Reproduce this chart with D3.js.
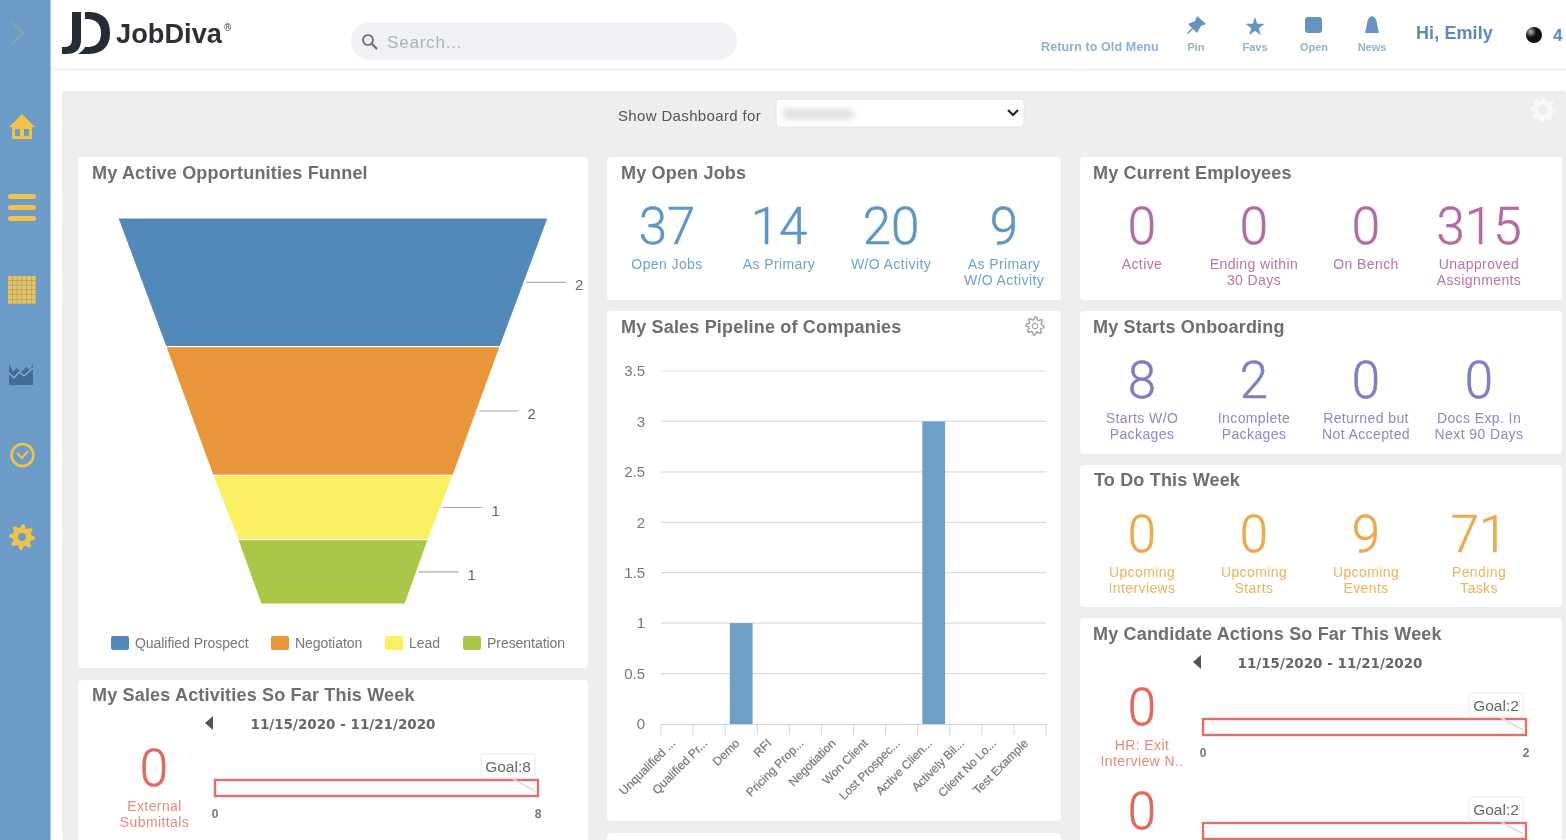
<!DOCTYPE html>
<html><head><meta charset="utf-8">
<script src="https://cdn.jsdelivr.net/npm/d3@7"></script>
<style>
html,body{margin:0;padding:0;background:#fff;overflow:hidden}
svg{display:block;filter:blur(0.5px)}
text{font-family:"Liberation Sans",Arial,sans-serif}
.title{font-size:18px;font-weight:700;fill:#6e6e6e;letter-spacing:0.18px}
.num{font-family:Roboto,sans-serif;font-weight:300;font-size:51px;text-anchor:middle;stroke-width:0.5px}
.lab{font-size:14px;text-anchor:middle;letter-spacing:0.4px}
.axis text{font-size:15px;fill:#777}
.date{font-family:"DejaVu Sans",sans-serif;font-size:13.5px;font-weight:700;fill:#666}
</style></head><body><svg id="c" width="1566" height="840"></svg>
<script>
// ---- data ----
const funnelCategories = ["Qualified Prospect","Negotiaton","Lead","Presentation"];
const funnelValues = [2,2,1,1];
const funnelColors = ["#5389b9","#e9953a","#fbf062","#aac748"];
const pipelineCategories = ["Unqualified ...","Qualified Pr...","Demo","RFI","Pricing Prop...","Negotiation","Won Client","Lost Prospec...","Active Clien...","Actively Bil...","Client No Lo...","Test Example"];
const pipelineValues = [0,0,1,0,0,0,0,0,3,0,0,0];
const pipelineTicks = [0,0.5,1,1.5,2,2.5,3,3.5];
const openJobsValues = ["37","14","20","9"];
const openJobsLabels = [["Open Jobs"],["As Primary"],["W/O Activity"],["As Primary","W/O Activity"]];
const employeesValues = ["0","0","0","315"];
const employeesLabels = [["Active"],["Ending within","30 Days"],["On Bench"],["Unapproved","Assignments"]];
const onboardingValues = ["8","2","0","0"];
const onboardingLabels = [["Starts W/O","Packages"],["Incomplete","Packages"],["Returned but","Not Accepted"],["Docs Exp. In","Next 90 Days"]];
const todoValues = ["0","0","9","71"];
const todoLabels = [["Upcoming","Interviews"],["Upcoming","Starts"],["Upcoming","Events"],["Pending","Tasks"]];
const dateRange = "11/15/2020 - 11/21/2020";
const salesGoal = 8, salesActual = 0;
const candidateGoals = [2,2], candidateActuals = [0,0];

const svg = d3.select("#c");
const rect=(x,y,w,h,f,r=0,p=svg)=>p.append("rect").attr("x",x).attr("y",y).attr("width",w).attr("height",h).attr("fill",f).attr("rx",r);
const text=(x,y,s,cls,attrs={})=>{const t=svg.append("text").attr("x",x).attr("y",y).text(s);if(cls)t.attr("class",cls);for(const k in attrs)t.attr(k,attrs[k]);return t;};
function gear(cx,cy,ro,ri,hole,fill,stroke){
  const n=8,pts=[];
  for(let i=0;i<n*4;i++){const r=(i%4<2)?ro:ri;const a=i/(n*4)*2*Math.PI;pts.push([cx+r*Math.cos(a),cy+r*Math.sin(a)]);}
  const g=svg.append("path").attr("d",d3.line().curve(d3.curveLinearClosed)(pts)).attr("fill",fill);
  if(stroke)g.attr("stroke",stroke).attr("stroke-width",1.3);
  return svg.append("circle").attr("cx",cx).attr("cy",cy).attr("r",hole);
}

// ---- page frame ----
rect(0,0,1566,840,"#fff");
rect(0,68,1566,3,"#f6f6f6");
rect(62,91,1504,749,"#eeeeee",3);
rect(0,0,50,840,"#6c9bc8");
rect(50,0,1,840,"#a9c6df");

// cards
[[78,157,510,511],[607,157,454,143],[1080,157,482,143],[607,311,454,510],[1080,311,482,143],[1080,465,482,142],[1080,618,482,240],[78,680,510,180],[607,833,454,30]]
 .forEach(d=>rect(d[0],d[1],d[2],d[3],"#fff",4));

// sidebar icons
const Y="#f0c14b";
svg.append("path").attr("d","M22 114 L35 127 H32 V139 H12 V127 H9 Z M15 129 V136 H20 V129 Z M24 129 V136 H29 V129 Z").attr("fill",Y).attr("fill-rule","evenodd");
[196,207,218].forEach(y=>rect(8,y-2,28,5,Y,2.5));
d3.range(6).forEach(i=>d3.range(6).forEach(j=>rect(8+i*4.7,276+j*4.7,4.2,4.2,Y)));
svg.append("path").attr("d","M9 385 V364 L13 372 L17 368 L21 373 L26 367 L30 370 L33 364 V385 Z").attr("fill","#3f6d96");
svg.append("path").attr("d","M9 373 L14 378 L19 372 L24 376 L33 368").attr("fill","none").attr("stroke","#8fb3d3").attr("stroke-width",1.2);
svg.append("circle").attr("cx",22.5).attr("cy",455).attr("r",11).attr("fill","none").attr("stroke",Y).attr("stroke-width",2.6);
svg.append("path").attr("d","M17 453 L22 458 L28 451").attr("fill","none").attr("stroke",Y).attr("stroke-width",2);
gear(22,537,13,9.5,4,Y).attr("fill","#6c9bc8");
svg.append("path").attr("d","M12 22 L23 33 L12 44").attr("fill","none").attr("stroke","#88ab9c").attr("stroke-width",1.5);

// logo
svg.append("path").attr("d","M72 12 H81 V40 Q81 54 66 54 H62 V47 H65 Q72 47 72 39 Z M85 12 H90 Q110 13 110 33 Q110 53 89 54 H78 Q84 50 85 47 H89 Q101 46 101 33 Q101 20 88 19 H85 Z").attr("fill","#262c36");
text(116,43,"JobDiva",null,{"font-size":"28px","font-weight":700,fill:"#2b2f36","textLength":106,"lengthAdjust":"spacingAndGlyphs"});
text(224,31,"®",null,{"font-size":"10px",fill:"#444"});

// search
rect(351,22,386,38,"#eff1f5",19);
svg.append("circle").attr("cx",368).attr("cy",40).attr("r",5).attr("fill","none").attr("stroke","#666").attr("stroke-width",1.7);
svg.append("path").attr("d","M372 44 L377 49").attr("stroke","#666").attr("stroke-width",1.9);
text(387,48,"Search...",null,{"font-size":"17px",fill:"#aeb2b9","font-family":"Open Sans","letter-spacing":"0.8"});

// header right
const hb="#6793c2";
text(1041,51,"Return to Old Menu",null,{"font-size":"12.5px","font-weight":700,fill:"#8fb0cd","letter-spacing":"0.1"});
[["Pin",1196],["Favs",1255],["Open",1314],["News",1372]].forEach(d=>text(d[1],51,d[0],null,{"font-size":"11px","font-weight":700,fill:"#92b3cf","text-anchor":"middle"}));
svg.append("path").attr("d","M1197 16 L1206 24 L1201 26 L1197 33 L1193 29 L1188 34 L1187 33 L1192 28 L1188 24 L1195 21 Z").attr("fill",hb);
svg.append("path").attr("d",d3.symbol().type(d3.symbolStar).size(115)()).attr("transform","translate(1255,27)").attr("fill",hb);
rect(1305,17,17,16,hb,3);
svg.append("path").attr("d","M1372 16 Q1377 18 1377 24 L1379 33 H1365 L1367 24 Q1367 18 1372 16 Z").attr("fill",hb);
text(1416,39,"Hi, Emily",null,{"font-size":"18px","font-weight":700,fill:"#5f88bb","letter-spacing":"0.1"});
const gr=svg.append("defs").append("radialGradient").attr("id","ball").attr("cx","0.3").attr("cy","0.3");
gr.append("stop").attr("offset","0").attr("stop-color","#bbb");gr.append("stop").attr("offset","0.7").attr("stop-color","#111");
svg.append("circle").attr("cx",1534).attr("cy",35).attr("r",8).attr("fill","url(#ball)");
text(1553,41,"4",null,{"font-size":"17px","font-weight":700,fill:"#5f88bb"});

// dashboard selector
text(618,121,"Show Dashboard for",null,{"font-size":"15px",fill:"#555","letter-spacing":"0.35"});
rect(776,99,248,28,"#fff",3).attr("stroke","#e2e2e2");
rect(783,109,70,10,"#dcdcdc",4).style("filter","blur(3px)");
svg.append("path").attr("d","M1008 110 L1013 115 L1018 110").attr("fill","none").attr("stroke","#222").attr("stroke-width",2.2);
gear(1543,110,13,9.5,5,"#f8f8f8").attr("fill","#eeeeee");
gear(1035,326,9,6.5,2.8,"#fff","#999").attr("fill","#fff").attr("stroke","#999");

// titles
[["My Active Opportunities Funnel",92,179],["My Open Jobs",621,179],["My Current Employees",1093,179],["My Sales Pipeline of Companies",621,333],["My Starts Onboarding",1093,333],["To Do This Week",1094,486],["My Candidate Actions So Far This Week",1093,640],["My Sales Activities So Far This Week",92,701]]
 .forEach(d=>text(d[1],d[2],d[0],"title"));

// ---- funnel ----
const cum=[0];funnelValues.forEach(v=>cum.push(cum[cum.length-1]+v));
const total=cum[cum.length-1], fCx=333;
const fy=d3.scaleLinear().domain([0,total]).range([218,604]);
const fwTop=d3.scaleLinear().domain([0,2,4,5,6]).range([215,167,120,95,72]);
const fArea=d3.line();
funnelValues.forEach((v,i)=>{
  const a=cum[i],b=cum[i+1];
  svg.append("path").attr("d",fArea([[fCx-fwTop(a),fy(a)],[fCx+fwTop(a),fy(a)],[fCx+fwTop(b),fy(b)],[fCx-fwTop(b),fy(b)]])+"Z").attr("fill",funnelColors[i]).attr("stroke","#fff").attr("stroke-width",1);
  const m=(a+b)/2,x=fCx+fwTop(m)+2,y=fy(m);
  svg.append("line").attr("x1",x).attr("x2",x+40).attr("y1",y).attr("y2",y).attr("stroke","#aaa").attr("stroke-width",1.2);
  text(x+49,y+8,v,null,{"font-size":"15px",fill:"#666"});
});
const legendX=[111,271,385,463];
funnelCategories.forEach((c,i)=>{
  rect(legendX[i],636,18,14,funnelColors[i],2);
  text(legendX[i]+24,648,c,null,{"font-size":"14px",fill:"#777","letter-spacing":"-0.05"});
});

// ---- bar chart ----
const bx=d3.scaleBand().domain(pipelineCategories).range([661,1046]).paddingInner(0.29).paddingOuter(0.145);
const by=d3.scaleLinear().domain([0,3.5]).range([724,371]);
const gy=svg.append("g").attr("class","axis").attr("transform","translate(661,0)")
  .call(d3.axisLeft(by).tickValues(pipelineTicks).tickFormat(d=>d).tickSize(0).tickPadding(16));
gy.select(".domain").remove();
gy.selectAll(".tick text").attr("dy","0.32em");
svg.selectAll("line.grid").data(pipelineTicks.slice(1)).join("line").attr("class","grid")
  .attr("x1",661).attr("x2",1046).attr("y1",d=>by(d)).attr("y2",d=>by(d)).attr("stroke","#dcdcdc").attr("stroke-width",1.2);
svg.selectAll("rect.bar").data(pipelineValues).join("rect").attr("class","bar")
  .attr("x",(d,i)=>bx(pipelineCategories[i])).attr("width",bx.bandwidth())
  .attr("y",d=>by(d)).attr("height",d=>by(0)-by(d)).attr("fill","#6e9fc6");
svg.append("line").attr("x1",661).attr("x2",1046).attr("y1",724.5).attr("y2",724.5).attr("stroke","#c9d6e2").attr("stroke-width",1.2);
d3.range(pipelineCategories.length+1).forEach(i=>{
  const x=661+i*(385/pipelineCategories.length);
  svg.append("line").attr("x1",x).attr("x2",x).attr("y1",724).attr("y2",735).attr("stroke","#c9d6e2").attr("stroke-width",1);
});
pipelineCategories.forEach(c=>{
  const x=bx(c)+bx.bandwidth()/2-4,y=741;
  svg.append("text").attr("transform",`translate(${x},${y}) rotate(-45)`).attr("text-anchor","end").attr("dy","0.35em")
    .attr("font-size","12px").attr("fill","#777").attr("stroke","#777").attr("stroke-width",0.2).text(c);
});

// ---- KPI groups ----
function kpi(cols,baseY,vals,labs,color,lColor){
  vals.forEach((v,i)=>{
    text(cols[i],baseY,v,"num",{fill:color,stroke:color});
    labs[i].forEach((l,j)=>text(cols[i],baseY+25+j*16,l,"lab",{fill:lColor||color}));
  });
}
const midCols=[667,779,891,1004], rightCols=[1142,1254,1366,1479];
kpi(midCols,244,openJobsValues,openJobsLabels,"#5f97c2","#6fa3c9");
kpi(rightCols,244,employeesValues,employeesLabels,"#b56aa2","#bb73a8");
kpi(rightCols,398,onboardingValues,onboardingLabels,"#7e7fc0","#8a8ac6");
kpi(rightCols,552,todoValues,todoLabels,"#eca94f","#efb25e");

// ---- goal bars ----
const R="#df7068";
function goalBar(x0,x1,y,goal,actual,showTicks){
  const s=d3.scaleLinear().domain([0,goal]).range([x0,x1]);
  rect(s(0),y,s(goal)-s(0),16,"#fff").attr("stroke",R).attr("stroke-width",2.4);
  rect(s(0),y,s(actual)-s(0),16,R);
  const bxL=s(goal)-57;
  rect(bxL,y-26,54,24,"#fff",1).attr("stroke","#e8e8e8");
  svg.append("path").attr("d",`M${s(goal)-25} ${y-1} L${s(goal)-3} ${y+11}`).attr("stroke","#ddd").attr("stroke-width",1.5);
  text(bxL+27,y-8,"Goal:"+goal,null,{"font-size":"15.5px",fill:"#666","text-anchor":"middle"});
  if(showTicks){
    [0,goal].forEach(v=>text(s(v),y+38,v,null,{"font-size":"12px","font-weight":700,fill:"#777","text-anchor":"middle"}));
  }
}
function arrow(x,y){svg.append("path").attr("d",`M${x} ${y-7} V${y+7} L${x-8} ${y} Z`).attr("fill","#555");}

arrow(213,723);
text(343,729,dateRange,"date",{"text-anchor":"middle"});
text(154,786,salesActual,"num",{fill:"#e0695e",stroke:"#e0695e"});
[["External",811],["Submittals",827]].forEach(d=>text(154.5,d[1],d[0],"lab",{fill:"#e58a82"}));
goalBar(215,538,780,salesGoal,salesActual,true);

arrow(1201,662);
text(1330,668,dateRange,"date",{"text-anchor":"middle"});
text(1142,725,candidateActuals[0],"num",{fill:"#e0695e",stroke:"#e0695e"});
[["HR: Exit",750],["Interview N..",766]].forEach(d=>text(1142,d[1],d[0],"lab",{fill:"#e58a82"}));
goalBar(1203,1526,719,candidateGoals[0],candidateActuals[0],true);
text(1142,829,candidateActuals[1],"num",{fill:"#e0695e",stroke:"#e0695e"});
goalBar(1203,1526,823,candidateGoals[1],candidateActuals[1],false);
</script></body></html>
